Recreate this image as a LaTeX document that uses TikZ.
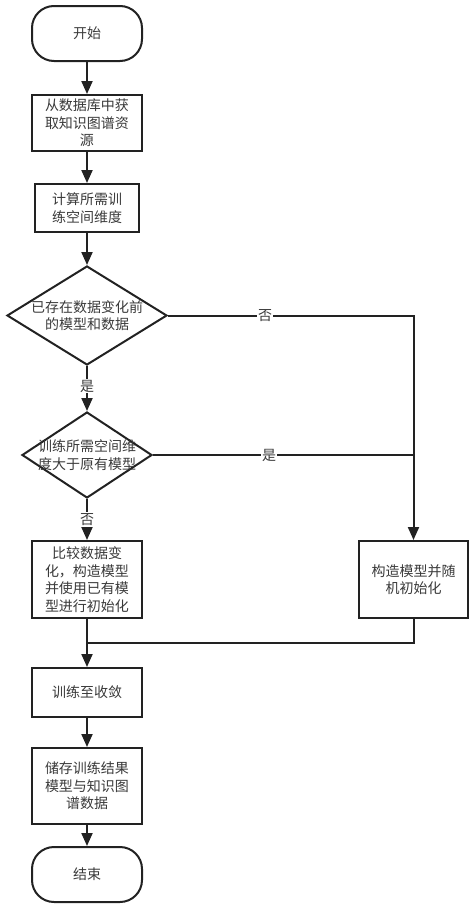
\documentclass[tikz,border=0pt]{standalone}
\usepackage{fontspec}
\newfontfamily\cjk{Noto Sans CJK SC}
\usetikzlibrary{shapes.geometric,arrows.meta}
\definecolor{ln}{HTML}{222222}
\definecolor{txt}{HTML}{3A3A3A}
\begin{document}
\begin{tikzpicture}[x=1pt,y=-1pt,
  every node/.style={font=\cjk\fontsize{14}{17.5}\selectfont, text=txt},
  box/.style={draw=ln, line width=2pt, align=center, inner sep=0pt, fill=white},
  term/.style={box, rounded corners=22pt},
  dia/.style={draw=ln, line width=2pt, diamond, inner sep=0pt, shape aspect=1},
  lab/.style={fill=white, inner sep=1pt},
  conn/.style={draw=ln, line width=2pt},
  arr/.style={conn, -{Triangle[width=11pt,length=13pt]}}]
\useasboundingbox (0,0) rectangle (474,908);
\node[term, minimum width=110pt, minimum height=55pt] (start) at (87,33.5) {开始};
\node[box, minimum width=110pt, minimum height=56pt] (fetch) at (87,123) {从数据库中获\\取知识图谱资\\源};
\node[box, minimum width=104pt, minimum height=48pt] (calc) at (87,208) {计算所需训\\练空间维度};
\node[dia, minimum width=160pt, minimum height=99pt] (d1) at (87,315.5) {};
\node[align=center] (d1t) at (87,315.5) {已存在数据变化前\\的模型和数据};
\node[dia, minimum width=130pt, minimum height=86pt] (d2) at (87,455) {};
\node[align=center] (d2t) at (87,455) {训练所需空间维\\度大于原有模型};
\node[box, minimum width=110pt, minimum height=77pt] (lbox) at (87,579.5) {比较数据变\\化，构造模型\\并使用已有模\\型进行初始化};
\node[box, minimum width=109pt, minimum height=77pt] (rbox) at (413.5,579.5) {构造模型并随\\机初始化};
\node[box, minimum width=110pt, minimum height=49pt] (train) at (87,692.5) {训练至收敛};
\node[box, minimum width=110pt, minimum height=76pt] (store) at (87,786) {储存训练结果\\模型与知识图\\谱数据};
\node[term, minimum width=110pt, minimum height=55pt] (end) at (87,874.5) {结束};
\coordinate (merge) at (87,643);
\draw[arr] (start) -- (fetch);
\draw[arr] (fetch) -- (calc);
\draw[arr] (calc) -- (d1);
\draw[arr] (d1.south) -- node[lab, pos=0.45] {是} (d2.north);
\draw[arr] (d2.south) -- node[lab, pos=0.5] {否} (lbox.north);
\draw[arr] (d1.east) -- (d1.east -| rbox.north) -- (rbox.north);
\node[lab] (no1) at (265,316) {否};
\draw[conn] (d2.east) -- (d2.east -| rbox.north);
\node[lab] (yes2) at (269,455) {是};
\draw[conn] (rbox.south) -- (rbox.south |- merge) -- (merge);
\draw[arr] (lbox.south) -- (train.north);
\draw[arr] (train) -- (store);
\draw[arr] (store) -- (end);
\end{tikzpicture}
\end{document}
